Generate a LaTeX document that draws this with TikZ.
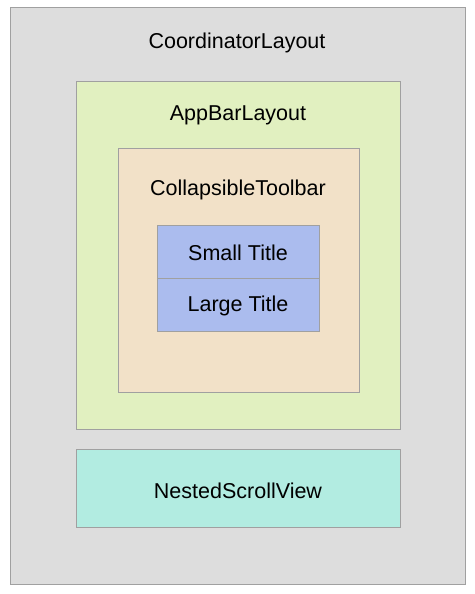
\documentclass[tikz,border=0pt]{standalone}
\usepackage{fontspec}
\setmainfont{Liberation Sans}
\definecolor{cgray}{HTML}{DDDDDD}
\definecolor{cgreen}{HTML}{E1F0C0}
\definecolor{ctan}{HTML}{F2E1C8}
\definecolor{cblue}{HTML}{ABBCEE}
\definecolor{ccyan}{HTML}{B2ECE1}
\definecolor{cedge}{HTML}{A0A0A0}
\begin{document}
\begin{tikzpicture}[x=1pt,y=-1pt,
  box/.style={draw=cedge,line width=1pt},
  lbl/.style={font=\fontsize{21.5}{24}\selectfont,text=black,inner sep=0pt}]
\useasboundingbox (0,0) rectangle (474,594);
\fill[white] (0,0) rectangle (474,594);
\draw[box,fill=cgray] (10,8) rectangle (465,584);
\node[lbl] (coord) at (237,43) {CoordinatorLayout};
\draw[box,fill=cgreen] (76,81) rectangle (400,429);
\node[lbl] (appbar) at (238,115) {AppBarLayout};
\draw[box,fill=ctan] (118,148) rectangle (359,392);
\node[lbl] (ctb) at (238,190) {CollapsibleToolbar};
\draw[box,fill=cblue] (157,225) rectangle (319,278);
\node[lbl] (small) at (238,253) {Small Title};
\draw[box,fill=cblue] (157,278) rectangle (319,331);
\node[lbl] (large) at (238,306) {Large Title};
\draw[box,fill=ccyan] (76,449) rectangle (400,527);
\node[lbl] (nsv) at (238,491) {NestedScrollView};
\end{tikzpicture}
\end{document}
